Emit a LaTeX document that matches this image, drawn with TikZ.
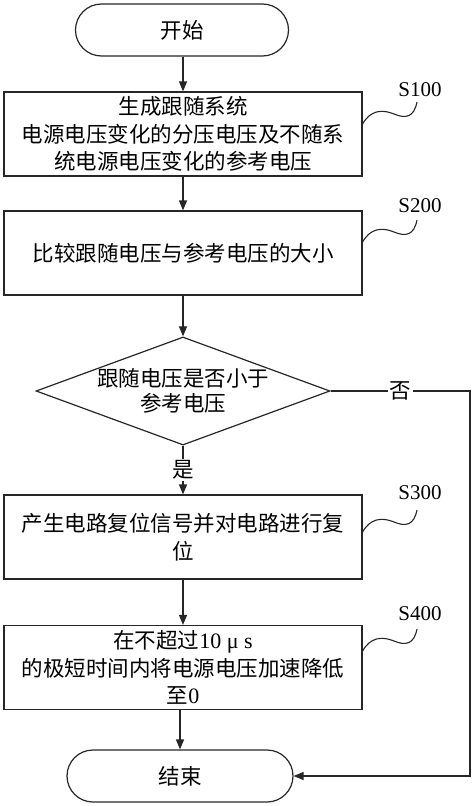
\documentclass[tikz,border=0pt]{standalone}
\usepackage{fontspec}
\setmainfont{Liberation Serif}
\newfontfamily\cjk{Noto Sans CJK SC}
\usetikzlibrary{arrows.meta,shapes.geometric}
\tikzset{
  line/.style={draw=black!85, line width=1.2pt},
  arr/.style={line, -{Triangle[length=10pt,width=8pt]}},
  box/.style={line, rectangle, minimum width=358pt, minimum height=84pt, inner sep=0pt, align=center, font=\fontsize{21.5}{27.5}\selectfont\cjk},
  term/.style={line, rectangle, rounded corners=26pt, minimum height=52pt, inner sep=0pt, font=\fontsize{21.5}{27}\selectfont\cjk},
  dec/.style={line, diamond, aspect=2.72, minimum width=294pt, minimum height=108pt, inner sep=0pt, align=center, font=\fontsize{21.5}{25}\selectfont\cjk},
  steplabel/.style={font=\fontsize{21}{21}\selectfont, inner sep=0pt},
  brlabel/.style={fill=white, inner sep=2pt, font=\fontsize{21.5}{21.5}\selectfont\cjk},
  squig/.pic={\draw[line width=1.1pt, black!85] (0,0) .. controls (8,-15) and (20,-16) .. (32,-11) .. controls (44,-6) and (52,-8) .. (55,-23);}
}
\begin{document}
\begin{tikzpicture}[x=1pt,y=-1pt]
\useasboundingbox (0,0) rectangle (474,806);
\node[term, minimum width=213pt] (start) at (182,30) {开始};
\node[box] (s1) at (183,134) {生成跟随系统\\电源电压变化的分压电压及不随系\\统电源电压变化的参考电压};
\node[box] (s2) at (183,253) {比较跟随电压与参考电压的大小};
\node[dec] (d) at (183,391) {跟随电压是否小于\\参考电压};
\node[box] (s3) at (183,537) {产生电路复位信号并对电路进行复\\位};
\node[box] (s4) at (183,667.5) {在不超过{\rmfamily\fontsize{22}{27.5}\selectfont 10 μ s}\\的极短时间内将电源电压加速降低\\至{\rmfamily\fontsize{22}{27.5}\selectfont 0}};
\node[term, minimum width=226pt] (stop) at (180,776) {结束};

\node[steplabel] (l1) at (420,90) {S100};
\node[steplabel] (l2) at (420,206) {S200};
\node[steplabel] (l3) at (420,493) {S300};
\node[steplabel] (l4) at (420,614) {S400};
\pic at (362,125) {squig};
\pic at (362,243) {squig};
\pic at (362,533) {squig};
\pic at (362,652) {squig};

\draw[arr] (start.south -| s1.north) -- (s1.north);
\draw[arr] (s1.south) -- (s2.north);
\draw[arr] (s2.south) -- (d.north);
\draw[arr] (d.south) -- node[brlabel] (yes) {是} (s3.north);
\draw[arr] (s3.south) -- (s4.north);
\draw[arr] (s4.south -| stop.north) -- (stop.north);
\coordinate (c1) at (470,391);
\coordinate (c2) at (470,776);
\draw[arr] (d.east) -- node[brlabel, pos=0.5] (no) {否} (c1) -- (c2) -- (stop.east);
\end{tikzpicture}
\end{document}
